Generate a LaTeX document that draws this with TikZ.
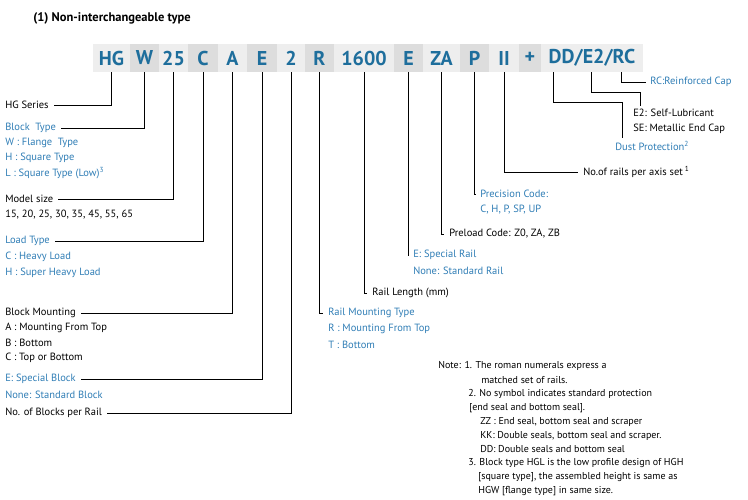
\documentclass[tikz,border=0pt]{standalone}
\usepackage{fontspec}
\setmainfont{PT Sans}
\usepackage{tikz}
\definecolor{codeblue}{HTML}{1E6E9C}
\definecolor{lblue}{HTML}{2F7DB5}
\definecolor{boxA}{HTML}{EEEEEE}
\definecolor{boxB}{HTML}{DDDDDD}
\tikzset{
  code/.style={minimum height=28pt, inner sep=0pt, text=codeblue,
    font=\fontsize{20}{20}\selectfont\bfseries},
  lbl/.style={anchor=west, inner sep=0pt, font=\fontsize{10.5}{12}\selectfont},
  blbl/.style={lbl, text=lblue},
  gap/.style={inner sep=0pt}
}
\begin{document}
\begin{tikzpicture}[x=1pt, y=-1pt, semithick]
	\useasboundingbox (0,0) rectangle (748,499);

	% Title
	\node[lbl, font=\fontsize{12.5}{13}\selectfont\bfseries] (title) at (33,18) {(1) Non-interchangeable type};

	% Code boxes
	\node[code, fill=boxA, minimum width=37pt] (cHG) at (111.5,58) {HG};
	\node[code, fill=boxB, minimum width=29pt] (cW) at (144.5,58) {W};
	\node[code, fill=boxA, minimum width=29pt] (c25) at (173.5,58) {25};
	\node[code, fill=boxB, minimum width=30pt] (cC) at (203,58) {C};
	\node[code, fill=boxA, minimum width=29pt] (cA) at (232.5,58) {A};
	\node[code, fill=boxB, minimum width=30pt] (cE) at (262,58) {E};
	\node[code, fill=boxA, minimum width=28pt] (c2) at (291,58) {2};
	\node[code, fill=boxB, minimum width=29pt] (cR) at (319.5,58) {R};
	\node[code, fill=boxA, minimum width=60pt] (cL) at (364,58) {1600};
	\node[code, fill=boxB, minimum width=29pt] (cE2) at (408.5,58) {E};
	\node[code, fill=boxA, minimum width=37pt] (cZA) at (441.5,58) {ZA};
	\node[code, fill=boxB, minimum width=29pt] (cP) at (474.5,58) {P};
	\node[code, fill=boxA, minimum width=30pt] (cII) at (504,58) {II};
	\node[code, fill=boxB, minimum width=22pt] (cPlus) at (530,58) {+};
	\node[code, fill=boxA, minimum width=102pt] (cDD) at (592,58) {DD/E2/RC};
	\coordinate (dd) at (553,72);
	\coordinate (e2) at (591,72);
	\coordinate (rc) at (621,72);

	% Left labels
	\node[lbl] (lHG) at (5,105) {HG Series};
	\node[blbl] (lW) at (5,128) {Block\ \ Type};
	\node[blbl] at (5,143) {W : Flange\ \ Type};
	\node[blbl] at (5,158) {H : Square Type};
	\node[blbl] at (5,173) {L : Square Type (Low)\textsuperscript{3}};
	\node[lbl] (l25) at (5,199) {Model size};
	\node[lbl] at (5,215) {15, 20, 25, 30, 35, 45, 55, 65};
	\node[blbl] (lC) at (5,241) {Load Type};
	\node[blbl] at (5,257) {C : Heavy Load};
	\node[blbl] at (5,273) {H : Super Heavy Load};
	\node[lbl] (lA) at (5,313) {Block Mounting};
	\node[lbl] at (5,328) {A : Mounting From Top};
	\node[lbl] at (5,343) {B : Bottom};
	\node[lbl] at (5,358) {C : Top or Bottom};
	\node[blbl] (lE) at (5,379) {E: Special Block};
	\node[blbl] at (5,395) {None: Standard Block};
	\node[lbl] (l2) at (5,413) {No. of Blocks per Rail};

	% Right labels
	\node[blbl] (lRC) at (650,82) {RC:Reinforced Cap};
	\node[lbl] (lE2) at (633,113) {E2: Self-Lubricant};
	\node[lbl] at (633,129) {SE: Metallic End Cap};
	\node[blbl] (lDD) at (615,146) {Dust Protection\textsuperscript{2}};
	\node[lbl] (lII) at (583,172) {No.of rails per axis set\,\textsuperscript{1}};
	\node[blbl] (lP) at (480,194) {Precision Code:};
	\node[blbl] at (480,210) {C, H, P, SP, UP};
	\node[lbl] (lZA) at (449,234) {Preload Code: Z0, ZA, ZB};
	\node[blbl] (lE2r) at (413,255) {E: Special Rail};
	\node[blbl] at (413,271) {None: Standard Rail};
	\node[lbl] (lL) at (372,293) {Rail Length (mm)};
	\node[blbl] (lR) at (328,313) {Rail Mounting Type};
	\node[blbl] at (328,329) {R : Mounting From Top};
	\node[blbl] at (328,345) {T : Bottom};

	% Connectors
	\foreach \c/\l in {cHG/lHG, cW/lW, c25/l25, cC/lC, cA/lA, cE/lE, c2/l2}
		\draw (\c.south) |- ([xshift=5pt]\l.east);
	\foreach \c/\l in {cR/lR, cL/lL, cE2/lE2r, cZA/lZA, cP/lP, cII/lII}
		\draw (\c.south) |- ([xshift=-5pt]\l.west);
	\draw (rc) |- ([xshift=-4pt]lRC.west);
	\draw (e2) |- (640,92) -- ([yshift=3pt]lE2.north -| 640,0);
	\draw (dd) |- (622,102) -- ([yshift=3pt]lDD.north -| 622,0);

	% Notes
	\begin{scope}[every node/.style={lbl, font=\fontsize{10}{11}\selectfont}]
		\node (n0) at (438,366) {Note: 1. The roman numerals express a};
		\node at (481,380) {matched set of rails.};
		\node at (468,394) {2. No symbol indicates standard protection};
		\node at (469,408) {[end seal and bottom seal].};
		\node at (480,422) {ZZ : End seal, bottom seal and scraper};
		\node at (480,436) {KK: Double seals, bottom seal and scraper.};
		\node at (480,449) {DD: Double seals and bottom seal};
		\node at (468,463) {3. Block type HGL is the low profile design of HGH};
		\node at (478,477) {[square type], the assembled height is same as};
		\node at (478,491) {HGW [flange type] in same size.};
	\end{scope}
\end{tikzpicture}
\end{document}
